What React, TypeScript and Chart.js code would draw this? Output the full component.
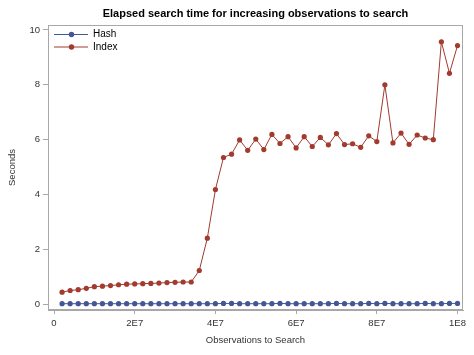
import React, { useEffect, useRef } from "react";
import { Chart, registerables } from "chart.js";

Chart.register(...registerables);

const TITLE = "Elapsed search time for increasing observations to search";
const X_TITLE = "Observations to Search";
const Y_TITLE = "Seconds";

// observations (millions)
const obsMillions = [
  2, 4, 6, 8, 10, 12, 14, 16, 18, 20,
  22, 24, 26, 28, 30, 32, 34, 36, 38, 40,
  42, 44, 46, 48, 50, 52, 54, 56, 58, 60,
  62, 64, 66, 68, 70, 72, 74, 76, 78, 80,
  82, 84, 86, 88, 90, 92, 94, 96, 98, 100,
];

const hashSeconds = [
  0.02, 0.02, 0.02, 0.02, 0.02, 0.02, 0.02, 0.02, 0.02, 0.02,
  0.02, 0.02, 0.02, 0.02, 0.02, 0.02, 0.02, 0.02, 0.02, 0.02,
  0.03, 0.03, 0.02, 0.02, 0.02, 0.02, 0.02, 0.03, 0.02, 0.02,
  0.02, 0.02, 0.02, 0.02, 0.03, 0.02, 0.02, 0.02, 0.03, 0.02,
  0.03, 0.02, 0.02, 0.02, 0.02, 0.03, 0.02, 0.02, 0.03, 0.03,
];

const indexSeconds = [
  0.44, 0.5, 0.53, 0.58, 0.64, 0.66, 0.68, 0.71, 0.73, 0.74,
  0.75, 0.76, 0.77, 0.79, 0.8, 0.81, 0.81, 1.23, 2.41, 4.18,
  5.35, 5.47, 5.99, 5.61, 6.02, 5.64, 6.19, 5.86, 6.11, 5.7,
  6.11, 5.75, 6.08, 5.81, 6.22, 5.82, 5.85, 5.72, 6.14, 5.93,
  8.0, 5.88, 6.24, 5.83, 6.17, 6.06, 6.0, 9.57, 8.42, 9.43,
];

const xTickValues = [0, 2e7, 4e7, 6e7, 8e7, 1e8];
const xTickLabels = ["0", "2E7", "4E7", "6E7", "8E7", "1E8"];
const yTickValues = [0, 2, 4, 6, 8, 10];

const SERIES = ["Hash", "Index"];
const COLORS = ["#445694", "#A23A2E"];

const FONT = "'Liberation Sans', Arial, sans-serif";
const AXIS_GRAY = "#a8a8a8";
const TEXT = "#333333";

const framePlugin = {
  id: "frameAndExtras",
  afterDraw(chart: any) {
    const { ctx, chartArea } = chart;
    ctx.save();
    ctx.strokeStyle = AXIS_GRAY;
    ctx.lineWidth = 1;
    ctx.strokeRect(
      Math.round(chartArea.left) + 0.5,
      Math.round(chartArea.top) + 0.5,
      Math.round(chartArea.right - chartArea.left) - 1,
      Math.round(chartArea.bottom - chartArea.top) - 1
    );
    // title centred over the plot area
    ctx.fillStyle = "#000";
    ctx.font = `bold 11px ${FONT}`;
    ctx.textAlign = "center";
    ctx.textBaseline = "middle";
    ctx.fillText(TITLE, (chartArea.left + chartArea.right) / 2, 14);
    // legend inside plot
    const lx = chartArea.left + 6;
    let ly = chartArea.top + 9;
    chart.data.datasets.forEach((ds: any) => {
      ctx.strokeStyle = ds.borderColor;
      ctx.lineWidth = 1;
      ctx.beginPath();
      ctx.moveTo(lx, ly + 0.5);
      ctx.lineTo(lx + 34, ly + 0.5);
      ctx.stroke();
      ctx.fillStyle = ds.pointBackgroundColor;
      ctx.beginPath();
      ctx.arc(lx + 17.5, ly + 0.5, 2.7, 0, Math.PI * 2);
      ctx.fill();
      ctx.fillStyle = "#000";
      ctx.font = `10px ${FONT}`;
      ctx.textAlign = "left";
      ctx.textBaseline = "middle";
      ctx.fillText(ds.label, lx + 39, ly + 0.5);
      ly += 12.5;
    });
    ctx.restore();
  },
};

export default function App() {
  const ref = useRef<HTMLCanvasElement>(null);
  useEffect(() => {
    document.body.style.margin = "0";
    const datasets = [hashSeconds, indexSeconds].map((vals, i) => ({
      label: SERIES[i],
      data: obsMillions.map((m, j) => ({ x: m * 1e6, y: vals[j] })),
      borderColor: COLORS[i],
      backgroundColor: COLORS[i],
      pointBackgroundColor: COLORS[i],
      pointBorderColor: COLORS[i],
      pointRadius: 2.6,
      pointBorderWidth: 0,
      borderWidth: 1,
      tension: 0,
    }));
    const chart = new Chart(ref.current!, {
      type: "line",
      data: { datasets },
      plugins: [framePlugin],
      options: {
        responsive: false,
        animation: false,
        layout: { padding: { top: 25, right: 11, left: 0, bottom: 0 } },
        plugins: {
          legend: { display: false },
          title: { display: false },
          tooltip: { enabled: false },
        },
        scales: {
          x: {
            type: "linear",
            min: -1.49e6,
            max: 101.36e6,
            afterFit: (s: any) => {
              s.height = 45;
            },
            afterBuildTicks: (s: any) => {
              s.ticks = xTickValues.map((v) => ({ value: v }));
            },
            grid: {
              drawOnChartArea: false,
              drawTicks: true,
              tickLength: 4,
              color: AXIS_GRAY,
            },
            border: { display: true, color: AXIS_GRAY },
            ticks: {
              padding: 4,
              color: TEXT,
              font: { family: FONT, size: 9.5 },
              maxRotation: 0,
              callback: (v: any) => {
                const idx = xTickValues.indexOf(Number(v));
                return idx >= 0 ? xTickLabels[idx] : "";
              },
            },
            title: {
              display: true,
              text: X_TITLE,
              color: TEXT,
              font: { family: FONT, size: 9.5 },
              padding: { top: 0, bottom: 9 },
            },
          },
          y: {
            type: "linear",
            min: -0.21,
            max: 10.18,
            afterFit: (s: any) => {
              s.width = 48;
            },
            afterBuildTicks: (s: any) => {
              s.ticks = yTickValues.map((v) => ({ value: v }));
            },
            grid: {
              drawOnChartArea: false,
              drawTicks: true,
              tickLength: 5,
              color: AXIS_GRAY,
            },
            border: { display: true, color: AXIS_GRAY },
            ticks: {
              padding: 3,
              color: TEXT,
              font: { family: FONT, size: 9.5 },
              callback: (v: any) => String(v),
            },
            title: {
              display: true,
              text: Y_TITLE,
              color: TEXT,
              font: { family: FONT, size: 9.5 },
              padding: { top: 7, bottom: 0 },
            },
          },
        },
      },
    });
    return () => chart.destroy();
  }, []);
  return (
    <div style={{ width: 474, height: 355 }}>
      <canvas ref={ref} width={474} height={355} />
    </div>
  );
}
